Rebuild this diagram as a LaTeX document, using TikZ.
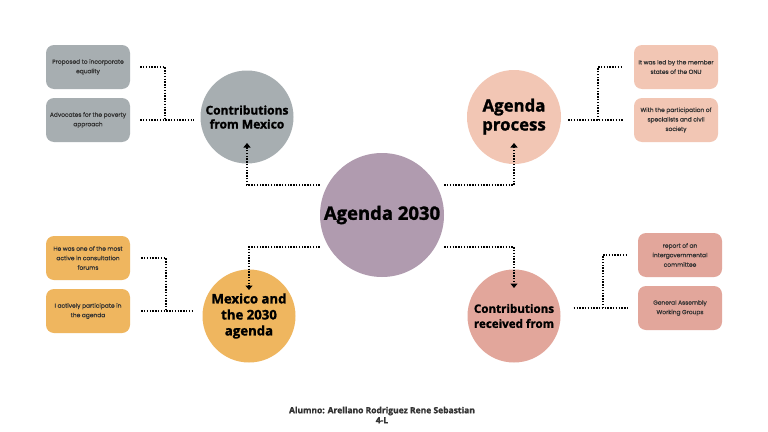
\documentclass[tikz,border=0pt]{standalone}
\usepackage{fontspec}
\setmainfont{Open Sans}
\newfontfamily\heavyfont{Open Sans}[BoldFeatures={FakeBold=1.4}]
\newfontfamily\boxfont{Poppins}[UprightFeatures={FakeBold=0.6}]
\usetikzlibrary{arrows.meta}
\definecolor{cmauve}{HTML}{B09BAF}
\definecolor{cgray}{HTML}{A7AEB1}
\definecolor{cpeach}{HTML}{F2C6B4}
\definecolor{corange}{HTML}{EFB65F}
\definecolor{csalmon}{HTML}{E2A69B}
\definecolor{ctext}{HTML}{333333}
\tikzset{
  bubble/.style={circle, inner sep=0pt, align=center, text=black},
  infobox/.style={rounded corners=8pt, minimum width=84pt, minimum height=44pt, inner sep=1pt,
    align=center, text=ctext, font=\boxfont\fontsize{5.9}{9.5}\selectfont},
  dotline/.style={line width=1.5pt, dash pattern=on 1.4pt off 1.4pt, black},
  arrline/.style={dotline, -{Triangle[width=7pt,length=4.5pt]}}
}
\begin{document}
\begin{tikzpicture}[x=1pt,y=-1pt]
\useasboundingbox[fill=white] (0,0) rectangle (768,431);
% central circle
\node[bubble, fill=cmauve, minimum size=124pt, font=\heavyfont\bfseries\fontsize{18.5}{22}\selectfont] (A) at (382,215) {Agenda 2030};
% satellite circles
\node[bubble, fill=cgray, minimum size=93pt, font=\heavyfont\bfseries\fontsize{12}{14}\selectfont] (c1) at (247,117) {Contributions\\from Mexico};
\node[bubble, fill=cpeach, minimum size=94pt, font=\heavyfont\bfseries\fontsize{16.8}{20}\selectfont] (c2) at (514,117) {\raisebox{3pt}{\begin{tabular}{@{}c@{}}Agenda\\[-1pt]process\end{tabular}}};
\node[bubble, fill=corange, minimum size=93pt, font=\heavyfont\bfseries\fontsize{13.2}{16}\selectfont] (c3) at (249,316) {Mexico and\\the 2030\\agenda};
\node[bubble, fill=csalmon, minimum size=93pt, font=\heavyfont\bfseries\fontsize{11.6}{15}\selectfont] (c4) at (514,316) {Contributions\\received from};
% boxes
\node[infobox, fill=cgray] (b1) at (88,67) {Proposed to incorporate\\equality};
\node[infobox, fill=cgray] (b2) at (88,120) {Advocates for the poverty\\approach};
\node[infobox, fill=cpeach] (d1) at (676,67) {It was led by the member\\states of the ONU};
\node[infobox, fill=cpeach] (d2) at (676,120) {With the participation of\\specialists and civil\\society};
\node[infobox, fill=corange] (f1) at (88,258) {He was one of the most\\active in consultation\\forums};
\node[infobox, fill=corange] (f2) at (88,311) {I actively participate in\\the agenda};
\node[infobox, fill=csalmon] (e1) at (680,255) {report of an\\intergovernmental\\committee};
\node[infobox, fill=csalmon] (e2) at (680,308) {General Assembly\\Working Groups};
% junctions
\coordinate (j1) at (165,120);
\coordinate (j2) at (598,120);
\coordinate (j3) at (166,311);
\coordinate (j4) at (603,308);
% center connectors
\draw[arrline] ([yshift=30pt]A.west) -| ([yshift=-26pt]c1.center);
\draw[arrline] ([yshift=30pt]A.east) -| ([yshift=-26pt]c2.center);
\draw[arrline] ([yshift=-32pt]A.west) -| ([yshift=26pt]c3.center);
\draw[arrline] ([yshift=-32pt]A.east) -| ([yshift=28pt]c4.center);
% box connectors
\draw[dotline, shorten <=10pt, shorten >=6pt] (b2.east) -- (c1.west |- b2.east);
\draw[dotline, shorten <=10pt] (b1.east) -| (j1);
\draw[dotline, shorten <=7pt, shorten >=11pt] (c2.east |- d2.west) -- (d2.west);
\draw[dotline, shorten >=11pt] (j2) |- (d1.west);
\draw[dotline, shorten <=11pt, shorten >=8pt] (f2.east) -- (c3.west |- f2.east);
\draw[dotline, shorten <=11pt] (f1.east) -| (j3);
\draw[dotline, shorten <=13pt, shorten >=10pt] (c4.east |- e2.west) -- (e2.west);
\draw[dotline, shorten >=10pt] (j4) |- (e1.west);
% footer
\node[font=\heavyfont\bfseries\fontsize{8.5}{10}\selectfont, align=center, text=ctext] (foot) at (382,415) {Alumno: Arellano Rodriguez Rene Sebastian\\4-L};
\end{tikzpicture}
\end{document}
